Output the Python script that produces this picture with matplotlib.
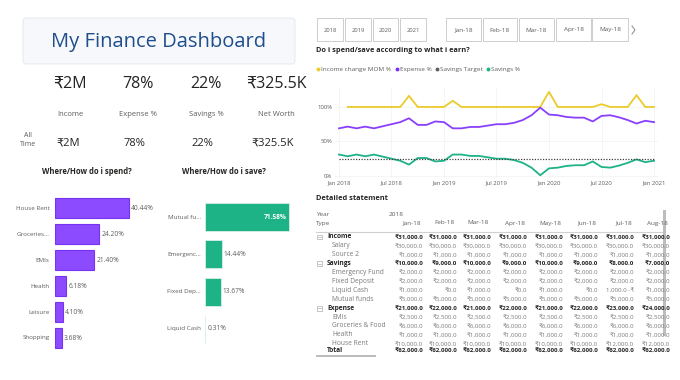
import numpy as np
import matplotlib
matplotlib.use("Agg")
import matplotlib.pyplot as plt
from matplotlib.patches import FancyBboxPatch, Rectangle

plt.rcParams['font.family'] = ['Open Sans', 'DejaVu Sans']

W, H = 680, 380

# KPI values
kpi_values = ["₹2M", "78%", "22%", "₹325.5K"]
kpi_labels = ["Income", "Expense %", "Savings %", "Net Worth"]
alltime_values = ["₹2M", "78%", "22%", "₹325.5K"]

# spend / save breakdown
spend_cats = ["House Rent", "Groceries...", "EMIs", "Health", "Leisure", "Shopping"]
spend_pct = [40.44, 24.20, 21.40, 6.18, 4.10, 3.68]
save_cats = ["Mutual fu...", "Emergenc...", "Fixed Dep...", "Liquid Cash"]
save_pct = [71.58, 14.44, 13.67, 0.31]

# monthly series, Jan 2018 .. Jan 2021 (None = no value)
income_mom = [None, 100, 100, 100, 100, 100, 100, 100, 116, 100, 100, 100, 100, 109, 100, 100,
              100, 100, 100, 100, 100, 100, 100, 100, 122, 100, 100, 100, 100, 100, 104, 100,
              100, 100, 117, 100, 100]
expense_pct = [69, 71.5, 69, 71.5, 69, 72, 75, 78, 83.6, 74, 74, 79, 78, 69, 69, 71,
               71, 73, 75, 75, 77, 81, 88, 99, 89, 88, 85.5, 84.5, 84.5, 79, 87, 88,
               85, 81, 76, 80, 78]
savings_pct = [31, 28.5, 31, 28.5, 31, 28, 25, 22, 16.4, 26, 26, 21, 22, 31, 31, 29,
               29, 27, 25, 25, 23, 19, 12, 1, 11, 12, 14.5, 15.5, 15.5, 21, 13, 12,
               15, 19, 24, 20, 22]
savings_target = 25
xtick_labels = ["Jan 2018", "Jul 2018", "Jan 2019", "Jul 2019", "Jan 2020", "Jul 2020", "Jan 2021"]

# slicers
years = ["2018", "2019", "2020", "2021"]
months = ["Jan-18", "Feb-18", "Mar-18", "Apr-18", "May-18"]

# detailed statement
tbl_months = ["Jan-18", "Feb-18", "Mar-18", "Apr-18", "May-18", "Jun-18", "Jul-18", "Aug-18"]
tbl_rows = [
    ("Income", 0, [31000] * 8),
    ("Salary", 1, [30000] * 8),
    ("Source 2", 1, [1000] * 8),
    ("Savings", 0, [10000, 9000, 10000, 9000, 10000, 9000, 8000, 7000]),
    ("Emergency Fund", 1, [2000] * 8),
    ("Fixed Deposit", 1, [2000] * 8),
    ("Liquid Cash", 1, [1000, 0, 1000, 0, 1000, 0, -1000, 1000]),
    ("Mutual funds", 1, [5000] * 8),
    ("Expense", 0, [21000, 22000, 21000, 22000, 21000, 22000, 23000, 24000]),
    ("EMIs", 1, [2500] * 8),
    ("Groceries & Food", 1, [6000] * 8),
    ("Health", 1, [1000] * 8),
    ("House Rent", 1, [10000] * 6 + [12000, 12000]),
]
tbl_total = [62000] * 8

PURPLE = "#8C4BFF"
PURPLE_EDGE = "#7633F2"
GREEN = "#1DB387"
YELLOW = "#EBCB2B"
GRAY = "#605E5C"


def rect(x0, y0, x1, y1):
    return [x0 / W, 1 - y1 / H, (x1 - x0) / W, (y1 - y0) / H]


fig = plt.figure(figsize=(6.8, 3.8), dpi=100)
fig.patch.set_facecolor("white")

ov = fig.add_axes([0, 0, 1, 1])
ov.set_xlim(0, W)
ov.set_ylim(H, 0)
ov.axis("off")

# title box
ov.add_patch(FancyBboxPatch((23, 18), 272, 46, boxstyle="round,pad=0,rounding_size=3",
                            fc="#F6F8FB", ec="#E3E6EA", lw=0.6))
ov.text(159, 42, "My Finance Dashboard", ha="center", va="center", fontsize=14.5, color="#1F4E8C")

# KPI cards
kpi_x = [70, 138, 206, 276]
for x, v, l in zip(kpi_x, kpi_values, kpi_labels):
    ov.text(x, 84, v, ha="center", va="center", fontsize=11.5, color="#252423")
    ov.text(x, 114, l, ha="center", va="center", fontsize=5.5, color=GRAY)
ov.text(28, 140, "All\nTime", ha="center", va="center", fontsize=5, color=GRAY, linespacing=1.4)
for x, v in zip([68, 134, 202, 273], alltime_values):
    ov.text(x, 143, v, ha="center", va="center", fontsize=8, color="#252423")

# spend bars
ov.text(87, 172, "Where/How do i spend?", ha="center", va="center", fontsize=5.5,
        fontweight="bold", color="#252423")
ax1 = fig.add_axes(rect(55, 195, 160, 351))
ax1.barh(range(len(spend_cats)), spend_pct, height=0.77, color=PURPLE, edgecolor=PURPLE_EDGE, lw=0.8)
ax1.set_ylim(len(spend_cats) - 0.5, -0.5)
ax1.set_xlim(0, 57.4)
ax1.axis("off")
for i, (c, p) in enumerate(zip(spend_cats, spend_pct)):
    ax1.text(-3, i, c, ha="right", va="center", fontsize=4.5, color=GRAY)
    ax1.text(p + 1.2, i, f"{p:.2f}%", ha="left", va="center", fontsize=4.8, color=GRAY)
ax1.set_clip_on(False)

# save bars
ov.text(224, 172, "Where/How do i save?", ha="center", va="center", fontsize=5.5,
        fontweight="bold", color="#252423")
ax2 = fig.add_axes(rect(205, 198.5, 290, 347.5))
ax2.barh(range(len(save_cats)), save_pct, height=0.75, color=GREEN, edgecolor="#D8EFE7", lw=0.6)
ax2.set_ylim(len(save_cats) - 0.5, -0.5)
ax2.set_xlim(0, 72.4)
ax2.axis("off")
for i, (c, p) in enumerate(zip(save_cats, save_pct)):
    ax2.text(-3.5, i, c, ha="right", va="center", fontsize=4.5, color=GRAY)
    if p > 50:
        ax2.text(p - 2, i, f"{p:.2f}%", ha="right", va="center", fontsize=4.8, color="white",
                 fontweight="bold")
    else:
        ax2.text(p + 1.5, i, f"{p:.2f}%", ha="left", va="center", fontsize=4.8, color=GRAY)

# slicers
yx = [(317, 343), (345, 371), (373, 398), (400, 426)]
for (a, b), t in zip(yx, years):
    ov.add_patch(Rectangle((a, 18), b - a, 23, fc="white", ec="#C8C6C4", lw=0.6))
    ov.text((a + b) / 2, 30, t, ha="center", va="center", fontsize=4.2, color=GRAY)
mx = [(446, 481), (483, 517), (519, 554), (556, 591), (592, 628)]
for (a, b), t in zip(mx, months):
    ov.add_patch(Rectangle((a, 18), b - a, 23, fc="white", ec="#C8C6C4", lw=0.6))
    ov.text((a + b) / 2, 30, t, ha="center", va="center", fontsize=4.6, color=GRAY)
ov.plot([632, 635, 632], [26, 30, 34], color="#8A8886", lw=0.7)

# line chart
ov.text(316, 50, "Do i spend/save according to what i earn?", ha="left", va="center",
        fontsize=5.3, fontweight="bold", color="#252423")
leg = [(318, YELLOW, "Income change MOM %"), (397, "#7A2EF5", "Expense %"),
       (437, "#5F5F5F", "Savings Target"), (488, GREEN, "Savings %")]
for x, c, t in leg:
    ov.plot([x], [69], "o", ms=2.8, color=c, mec="none")
    ov.text(x + 3, 69, t, ha="left", va="center", fontsize=4.6, color=GRAY)

ax3 = fig.add_axes(rect(335, 88, 658, 178))
m = np.arange(len(expense_pct))
inc = np.array([np.nan if v is None else v for v in income_mom], dtype=float)
ax3.plot(m, inc, color=YELLOW, lw=1.3, solid_joinstyle="miter")
ax3.plot(m, expense_pct, color="#8A3FFC", lw=1.3)
ax3.plot(m, savings_pct, color=GREEN, lw=1.3)
ax3.plot([0, m[-1]], [savings_target] * 2, color="#404040", lw=0.9, ls=(0, (1, 1.2)))
ax3.set_xlim(-0.457, 36.457)
ax3.set_ylim(-3, 127.5)
ax3.set_xticks(np.arange(0, 37, 6))
ax3.set_xticklabels(xtick_labels)
ax3.set_yticks([0, 50, 100])
ax3.set_yticklabels(["0%", "50%", "100%"])
ax3.tick_params(length=0, labelsize=4.3, labelcolor=GRAY, pad=2)
ax3.grid(True, color="#F1F1F1", lw=0.5)
ax3.set_axisbelow(True)
for s in ax3.spines.values():
    s.set_visible(False)

# detailed statement
ov.text(316, 198, "Detailed statement", ha="left", va="center", fontsize=5.3,
        fontweight="bold", color="#252423")
ov.text(316, 214, "Year", ha="left", va="center", fontsize=4.6, color=GRAY)
ov.text(316, 223, "Type", ha="left", va="center", fontsize=4.6, color=GRAY)
ov.text(389, 214, "2018", ha="left", va="center", fontsize=4.6, color=GRAY)
col_r = [423, 457, 491, 527, 563, 598, 634, 670]
clip = Rectangle((300, 200), 362, 170, transform=ov.transData)
for r, t in zip(col_r, tbl_months):
    txt = ov.text(r - 2, 223, t, ha="right", va="center", fontsize=4.6, color=GRAY)
    txt.set_clip_path(clip)
ov.plot([316, 662], [232, 232], color="#D0D0D0", lw=0.8)


def fmt(v):
    if v < 0:
        return f"{-v:,.1f} -₹"
    return f"₹{v:,.1f}"


row_y = 237
for name, lvl, vals in tbl_rows:
    bold = lvl == 0
    col = "#252423" if bold else "#7A7A7A"
    if bold:
        ov.add_patch(Rectangle((317, row_y - 2.4), 4.8, 4.8, fc="white", ec="#999999", lw=0.4))
        ov.plot([318.3, 320.5], [row_y, row_y], color="#999999", lw=0.4)
        ov.text(327, row_y, name, ha="left", va="center", fontsize=4.8, fontweight="bold", color=col)
    else:
        ov.text(332, row_y, name, ha="left", va="center", fontsize=4.8, color=col)
    for r, v in zip(col_r, vals):
        t = ov.text(r, row_y, fmt(v), ha="right", va="center", fontsize=4.4,
                    fontweight="bold" if bold else "normal", color=col)
        t.set_clip_path(clip)
    row_y += 8.9
ov.text(327, 350, "Total", ha="left", va="center", fontsize=4.8, fontweight="bold", color="#252423")
for r, v in zip(col_r, tbl_total):
    t = ov.text(r, 350, fmt(v), ha="right", va="center", fontsize=4.4, fontweight="bold", color="#252423")
    t.set_clip_path(clip)

# scrollbars
ov.add_patch(Rectangle((663, 210), 2.5, 126, fc="#BDBDBD", ec="none"))
ov.add_patch(Rectangle((316, 355), 60, 2.2, fc="#BDBDBD", ec="none"))

fig.savefig("out.png", dpi=100, facecolor="white")
